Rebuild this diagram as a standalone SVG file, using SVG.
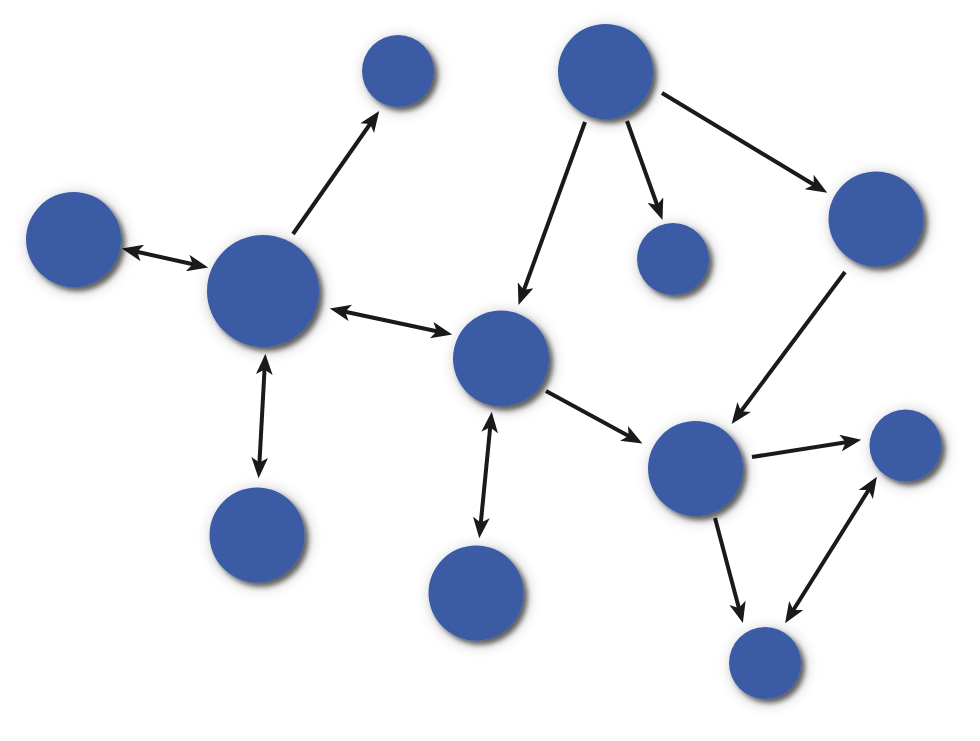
<svg xmlns="http://www.w3.org/2000/svg" width="980" height="741" viewBox="0 0 980 741">
<defs>
<filter id="sh" x="-40%" y="-40%" width="180%" height="180%">
<feGaussianBlur in="SourceAlpha" stdDeviation="8" result="b1"/>
<feOffset in="b1" dx="3" dy="3" result="o1"/>
<feComponentTransfer in="o1" result="g1"><feFuncA type="linear" slope="0.28"/></feComponentTransfer>
<feGaussianBlur in="SourceAlpha" stdDeviation="2.5" result="b2"/>
<feOffset in="b2" dx="4" dy="4" result="o2"/>
<feComponentTransfer in="o2" result="g2"><feFuncA type="linear" slope="0.55"/></feComponentTransfer>
<feMerge><feMergeNode in="g1"/><feMergeNode in="g2"/><feMergeNode in="SourceGraphic"/></feMerge>
</filter>
<marker id="ah" viewBox="0 0 20 16" refX="13" refY="8" markerWidth="21" markerHeight="17" markerUnits="userSpaceOnUse" orient="auto-start-reverse">
<path d="M0,0 L20,8 L0,16 L5,8 z" fill="#1a1a1a"/>
</marker>
</defs>
<style>
.n{fill:#3a5ba5;filter:url(#sh)}
.e{stroke:#1a1a1a;stroke-width:4;fill:none}
.a{marker-end:url(#ah)}
.d{marker-start:url(#ah);marker-end:url(#ah)}
</style>
<g id="connectors">
<line class="e d" x1="129" y1="250" x2="201" y2="266"/>
<line class="e a" x1="293" y1="234" x2="375" y2="117"/>
<line class="e d" x1="337" y1="310" x2="445" y2="333"/>
<line class="e d" x1="265" y1="361" x2="259" y2="471"/>
<line class="e a" x1="585" y1="122" x2="521" y2="298"/>
<line class="e a" x1="627" y1="121" x2="660" y2="213"/>
<line class="e a" x1="662" y1="93" x2="821" y2="189"/>
<line class="e a" x1="845" y1="272" x2="736" y2="418"/>
<line class="e a" x1="546" y1="391" x2="636" y2="440"/>
<line class="e d" x1="491" y1="419" x2="480" y2="531"/>
<line class="e a" x1="752" y1="457" x2="854" y2="441"/>
<line class="e a" x1="715" y1="518" x2="741" y2="616"/>
<line class="e d" x1="873" y1="483" x2="789" y2="617"/>
</g>
<g id="n1"><circle class="n" cx="73.5" cy="239.5" r="47.5"/></g>
<g id="n2"><circle class="n" cx="263" cy="291" r="56"/></g>
<g id="n3"><circle class="n" cx="398" cy="71" r="36"/></g>
<g id="n4"><circle class="n" cx="605.5" cy="71.5" r="47.5"/></g>
<g id="n5"><circle class="n" cx="673" cy="259" r="36"/></g>
<g id="n6"><circle class="n" cx="876" cy="219" r="47.5"/></g>
<g id="n7"><circle class="n" cx="501" cy="358.5" r="48"/></g>
<g id="n8"><circle class="n" cx="257" cy="535" r="47.5"/></g>
<g id="n9"><circle class="n" cx="476" cy="593" r="47.5"/></g>
<g id="n10"><circle class="n" cx="695.5" cy="468.5" r="47.5"/></g>
<g id="n11"><circle class="n" cx="905.5" cy="445.5" r="36"/></g>
<g id="n12"><circle class="n" cx="765" cy="663" r="36"/></g>
</svg>
